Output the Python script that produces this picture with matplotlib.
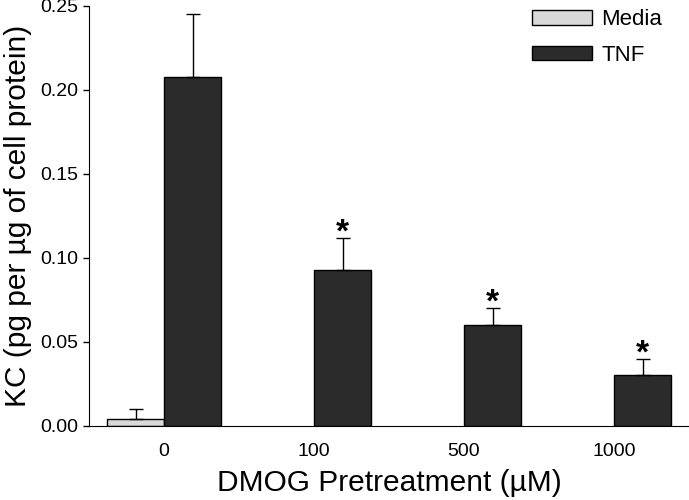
import numpy as np
import matplotlib
matplotlib.use('Agg')
from matplotlib import pyplot as plt

plt.rcParams['font.family'] = ['Liberation Sans', 'DejaVu Sans']

doses = ['0', '100', '500', '1000']
media = [0.0043, 0, 0, 0]
media_err = [0.0060, 0, 0, 0]
tnf = [0.208, 0.0927, 0.0603, 0.0304]
tnf_err = [0.0373, 0.0194, 0.0101, 0.0096]
stars = ['', '*', '*', '*']

x = np.arange(len(doses))
w = 0.38

fig = plt.figure(figsize=(6.89, 5.0), dpi=100)
ax = fig.add_axes([89/689, 74/500, 600/689, 420/500])

# only the 0 group has a visible media bar
ax.bar(x[:1] - w/2, media[:1], w, color='#d9d9d9', edgecolor='black', linewidth=1, label='Media')
ax.bar(x + w/2, tnf, w, color='#2b2b2b', edgecolor='black', linewidth=1, label='TNF')

ax.errorbar(x[:1] - w/2, media[:1], yerr=[[0], media_err[:1]], fmt='none',
            ecolor='black', elinewidth=1, capsize=4.7, capthick=1)
ax.errorbar(x + w/2, tnf, yerr=[np.zeros(len(tnf)), tnf_err], fmt='none',
            ecolor='black', elinewidth=1, capsize=4.7, capthick=1)

for i in range(len(doses)):
    if stars[i]:
        ax.annotate(stars[i], (x[i] + w/2, tnf[i] + tnf_err[i]), xytext=(0, -2.5),
                    textcoords='offset points', ha='center', va='baseline',
                    fontsize=24, fontweight='bold')

ax.set_xlim(-0.5, 3.5)
ax.set_ylim(0, 0.25)
ax.set_yticks([0, 0.05, 0.10, 0.15, 0.20, 0.25])
ax.set_yticklabels(['0.00', '0.05', '0.10', '0.15', '0.20', '0.25'])
ax.set_xticks(x)
ax.set_xticklabels(doses)
ax.tick_params(axis='x', length=0, labelsize=14, pad=12)
ax.tick_params(axis='y', length=4, width=1, labelsize=14, direction='out')
ax.spines['top'].set_visible(False)
ax.spines['right'].set_visible(False)

ax.set_xlabel('DMOG Pretreatment (µM)', fontsize=21.5, labelpad=7)
ax.set_ylabel('KC (pg per µg of cell protein)', fontsize=21.5, labelpad=6)

ax.legend(loc='upper left', bbox_to_anchor=(519/689, 1.008), bbox_transform=fig.transFigure,
          frameon=False, fontsize=16, handlelength=2.7, handleheight=0.6,
          handletextpad=0.4, labelspacing=0.65, borderaxespad=0.2)

fig.savefig('out.png', dpi=100)
